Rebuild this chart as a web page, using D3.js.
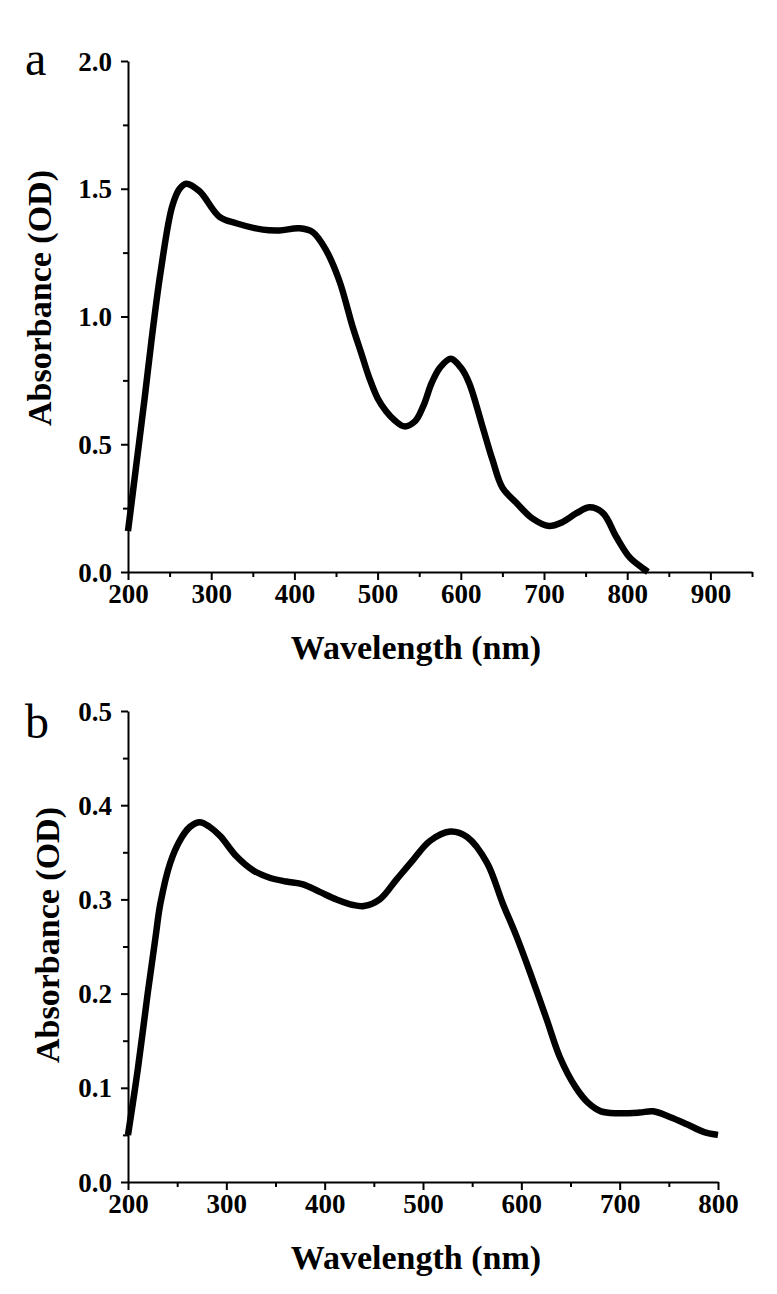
<!DOCTYPE html>
<html>
<head>
<meta charset="utf-8">
<script src="https://cdn.jsdelivr.net/npm/d3@7/dist/d3.min.js"></script>
<style>
  body { margin: 0; background: #fff; }
  svg text { font-family: "Liberation Serif", "Times New Roman", serif; }
</style>
</head>
<body>
<svg id="chart" width="777" height="1294"></svg>
<script>
// Panel a spectrum (nm, OD)
const wavelengthA = [200, 210, 220, 228, 239, 253, 262, 270, 286, 310, 330, 362, 382, 406, 422, 438, 454, 470,
  480, 490, 500, 510, 520, 532, 545, 555, 565, 575, 588, 600, 610, 626, 638, 650, 667, 686, 706, 722, 739,
  755, 771, 787, 803, 819, 825];
const absorbanceA = [0.16, 0.42, 0.68, 0.90, 1.17, 1.43, 1.50, 1.52, 1.49, 1.39, 1.365, 1.34, 1.337, 1.345, 1.33,
  1.26, 1.14, 0.96, 0.86, 0.76, 0.68, 0.63, 0.595, 0.57, 0.59, 0.65, 0.74, 0.80, 0.835, 0.80, 0.74, 0.57, 0.44,
  0.33, 0.27, 0.21, 0.18, 0.195, 0.23, 0.253, 0.23, 0.137, 0.057, 0.014, 0.0];

// Panel b spectrum
const wavelengthB = [200, 210, 220, 228, 233, 243, 253, 263, 273, 283, 294, 310, 327, 344, 361, 378, 395, 412,
  429, 440, 456, 473, 490, 507, 528, 545, 565, 581, 595, 609, 626, 639, 655, 668, 681, 698, 720, 734, 751,
  769, 786, 800];
const absorbanceB = [0.05, 0.12, 0.20, 0.26, 0.296, 0.339, 0.363, 0.377, 0.382, 0.377, 0.367, 0.346, 0.331, 0.323,
  0.319, 0.316, 0.308, 0.300, 0.294, 0.293, 0.300, 0.321, 0.342, 0.362, 0.372, 0.366, 0.339, 0.296, 0.261,
  0.222, 0.172, 0.133, 0.101, 0.084, 0.075, 0.073, 0.0737, 0.075, 0.069, 0.061, 0.053, 0.050];

// Axis ticks
const xTicksA = [200, 300, 400, 500, 600, 700, 800, 900];
const xMinorA = [250, 350, 450, 550, 650, 750, 850, 950];
const yTicksA = [0.0, 0.5, 1.0, 1.5, 2.0];
const yMinorA = [0.25, 0.75, 1.25, 1.75];

const xTicksB = [200, 300, 400, 500, 600, 700, 800];
const xMinorB = [250, 350, 450, 550, 650, 750];
const yTicksB = [0.0, 0.1, 0.2, 0.3, 0.4, 0.5];
const yMinorB = [0.05, 0.15, 0.25, 0.35, 0.45];

const svg = d3.select('#chart');

function drawPanel(p) {
    const x = d3.scaleLinear().domain(p.xDomain).range([p.left, p.right]);
    const y = d3.scaleLinear().domain(p.yDomain).range([p.bottom, p.top]);
    const g = svg.append('g');

    // x axis
    const xAxis = g.append('g').attr('transform', `translate(0,${p.bottom})`);
    xAxis.call(d3.axisBottom(x).tickValues(p.xTicks).tickSize(8).tickSizeOuter(0).tickFormat(d3.format('d')));
    xAxis.append('g').call(d3.axisBottom(x).tickValues(p.xMinor).tickSize(5).tickSizeOuter(0).tickFormat(''))
        .select('.domain').remove();

    // y axis
    const yAxis = g.append('g').attr('transform', `translate(${p.left},0)`);
    yAxis.call(d3.axisLeft(y).tickValues(p.yTicks).tickSize(7).tickSizeOuter(0).tickFormat(d3.format('.1f')));
    yAxis.append('g').call(d3.axisLeft(y).tickValues(p.yMinor).tickSize(5).tickSizeOuter(0).tickFormat(''))
        .select('.domain').remove();

    [xAxis, yAxis].forEach(a => {
        a.selectAll('path, line').attr('stroke', '#000').attr('stroke-width', 2);
        a.selectAll('text')
            .attr('fill', '#000')
            .attr('font-size', '27px')
            .attr('font-weight', 'bold');
    });
    xAxis.selectAll('text').attr('y', 12).attr('dy', '0.71em');
    yAxis.selectAll('text').attr('x', -16).attr('dy', '0.34em');

    // spectrum, smooth like the original instrument trace
    const line = d3.line()
        .x((d, i) => x(p.xs[i]))
        .y(d => y(d))
        .curve(d3.curveCatmullRom.alpha(0.5));
    g.append('path')
        .datum(p.ys)
        .attr('d', line)
        .attr('fill', 'none')
        .attr('stroke', '#000')
        .attr('stroke-width', 6.5)
        .attr('stroke-linejoin', 'round');

    // titles
    g.append('text')
        .attr('x', 416).attr('y', p.bottom + 87)
        .attr('text-anchor', 'middle')
        .attr('font-size', '34px').attr('font-weight', 'bold')
        .text('Wavelength (nm)');
    g.append('text')
        .attr('transform', `translate(${p.yTitleX},${p.yTitleTop}) rotate(-90)`)
        .attr('text-anchor', 'end')
        .attr('font-size', '34px').attr('font-weight', 'bold')
        .text('Absorbance (OD)');

    // panel letter
    g.append('text')
        .attr('x', 25).attr('y', p.letterY)
        .attr('font-size', '48px')
        .text(p.letter);
}

drawPanel({
    letter: 'a', letterY: 75,
    left: 128, right: 752, top: 61, bottom: 572,
    xDomain: [200, 950], yDomain: [0, 2],
    xTicks: xTicksA, xMinor: xMinorA, yTicks: yTicksA, yMinor: yMinorA,
    xs: wavelengthA, ys: absorbanceA,
    yTitleX: 51, yTitleTop: 170
});

drawPanel({
    letter: 'b', letterY: 738,
    left: 128, right: 718, top: 711, bottom: 1182,
    xDomain: [200, 800], yDomain: [0, 0.5],
    xTicks: xTicksB, xMinor: xMinorB, yTicks: yTicksB, yMinor: yMinorB,
    xs: wavelengthB, ys: absorbanceB,
    yTitleX: 59, yTitleTop: 807
});
</script>
</body>
</html>
